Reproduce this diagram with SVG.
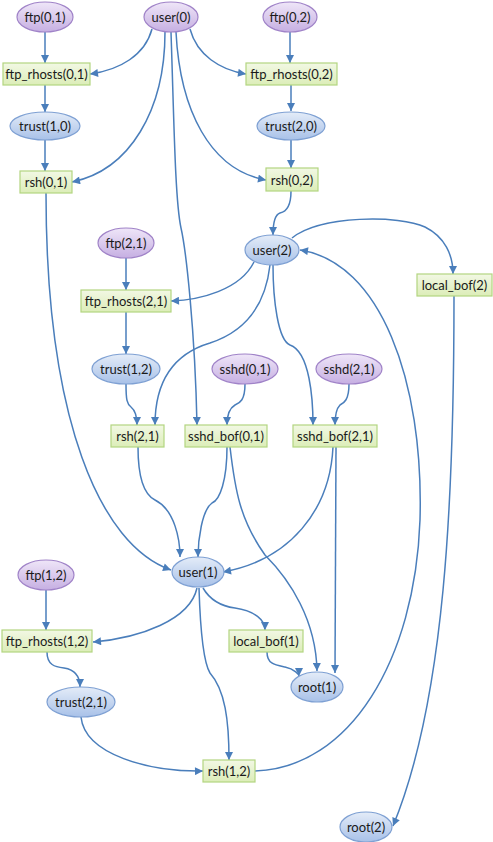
<svg xmlns="http://www.w3.org/2000/svg" width="493" height="842" viewBox="0 0 493 842">
<defs>
<linearGradient id="gp" x1="0" y1="0" x2="0" y2="1"><stop offset="0" stop-color="#efe6f8"/><stop offset="1" stop-color="#c6afe2"/></linearGradient>
<linearGradient id="gb" x1="0" y1="0" x2="0" y2="1"><stop offset="0" stop-color="#e4ecf8"/><stop offset="1" stop-color="#a8c1e8"/></linearGradient>
<linearGradient id="gg" x1="0" y1="0" x2="0" y2="1"><stop offset="0" stop-color="#f2f8e4"/><stop offset="1" stop-color="#dcedb8"/></linearGradient>
<marker id="ah" viewBox="0 0 10 10" refX="10" refY="5" markerWidth="9" markerHeight="8" markerUnits="userSpaceOnUse" orient="auto"><path d="M0,0 L10,5 L0,10 z" fill="#4a7ebb"/></marker>
<style>
.p{fill:url(#gp);stroke:#a083c8;stroke-width:1.2}
.b{fill:url(#gb);stroke:#7ea0d3;stroke-width:1.2}
.g{fill:url(#gg);stroke:#b3d580;stroke-width:1.2}
text{font-family:Lato,"Open Sans","Liberation Sans",sans-serif;font-size:13px;fill:#1a1a1a;text-anchor:middle;dominant-baseline:central}
#edges path{fill:none;stroke:#4a7ebb;stroke-width:1.5;marker-end:url(#ah)}
</style>
</defs>
<rect width="493" height="842" fill="#ffffff"/>
<g id="edges">
<path d="M45,32 L45,63"/>
<path d="M152,29 C145,55 120,70 90,74"/>
<path d="M190,29 C197,55 220,70 246,74"/>
<path d="M45,85 L45,112"/>
<path d="M45,140 L45,171"/>
<path d="M165,32 C165,110 130,170 72,182"/>
<path d="M176,32 C180,110 210,170 266,180"/>
<path d="M171,32 C174,120 175,200 181,228 C186,250 195,330 197,425"/>
<path d="M290,32 L290,63"/>
<path d="M291,85 L291,111"/>
<path d="M291,140 L291,168"/>
<path d="M291,191 C291,208 285,212 280,213 C274,215 273,225 273,235"/>
<path d="M46,193 C46,420 100,545 171,570"/>
<path d="M292,238 C320,215 400,215 425,227 C445,237 453,255 453,274"/>
<path d="M254,262 C240,290 200,300 171,301"/>
<path d="M270,265 C266,300 250,330 210,343 C170,355 155,385 155,425"/>
<path d="M273,265 C273,300 278,340 290,345 C310,352 313,400 313,425"/>
<path d="M255,771 C350,768 415,660 420,520 C424,380 380,262 300,250"/>
<path d="M126,258 L126,290"/>
<path d="M126,312 L126,354"/>
<path d="M126,384 C126,400 127,404 131,407 C136,411 137,418 137,425"/>
<path d="M245,384 C245,400 240,403 235,405 C228,409 227,418 227,425"/>
<path d="M349,384 C349,400 344,403 340,405 C336,409 335,418 335,425"/>
<path d="M454,296 C454,500 445,700 393,826"/>
<path d="M138,447 C138,480 145,495 155,500 C175,510 180,540 180,557"/>
<path d="M227,447 C227,480 220,500 212,503 C202,510 198,540 198,557"/>
<path d="M333,447 C330,510 290,560 223,572"/>
<path d="M230,447 C235,490 240,520 265,555 C290,580 316,620 317,671"/>
<path d="M336,447 L335,673"/>
<path d="M197,588 C190,620 140,638 93,642"/>
<path d="M46,590 L46,630"/>
<path d="M203,588 C210,600 220,606 235,608 C255,611 265,620 265,630"/>
<path d="M199,588 C200,620 202,660 210,673 C225,690 229,720 229,760"/>
<path d="M47,652 C47,665 55,667 64,668 C77,670 80,678 80,687"/>
<path d="M81,717 C85,755 150,772 203,771"/>
<path d="M267,652 C267,664 275,665 285,667 C295,669 299,675 299,676"/>
</g>
<g id="n_ftp01"><ellipse class="p" cx="45" cy="17" rx="28" ry="15"/><text x="45" y="17">ftp(0,1)</text></g>
<g id="n_user0"><ellipse class="p" cx="171" cy="17" rx="27" ry="15"/><text x="171" y="17">user(0)</text></g>
<g id="n_ftp02"><ellipse class="p" cx="290" cy="17" rx="27" ry="15"/><text x="290" y="17">ftp(0,2)</text></g>
<g id="n_ftprhosts01"><rect class="g" x="3" y="63" width="87" height="22"/><text x="46.5" y="74">ftp_rhosts(0,1)</text></g>
<g id="n_ftprhosts02"><rect class="g" x="246" y="63" width="91" height="22"/><text x="291.5" y="74">ftp_rhosts(0,2)</text></g>
<g id="n_trust10"><ellipse class="b" cx="45" cy="126" rx="35" ry="14"/><text x="45" y="126">trust(1,0)</text></g>
<g id="n_trust20"><ellipse class="b" cx="291" cy="126" rx="34" ry="14"/><text x="291" y="126">trust(2,0)</text></g>
<g id="n_rsh01"><rect class="g" x="20" y="171" width="52" height="22"/><text x="46" y="182">rsh(0,1)</text></g>
<g id="n_rsh02"><rect class="g" x="266" y="168" width="52" height="23"/><text x="292" y="179.5">rsh(0,2)</text></g>
<g id="n_user2"><ellipse class="b" cx="272" cy="250" rx="27" ry="15"/><text x="272" y="250">user(2)</text></g>
<g id="n_localbof2"><rect class="g" x="417" y="274" width="75" height="22"/><text x="454.5" y="285">local_bof(2)</text></g>
<g id="n_ftp21"><ellipse class="p" cx="126" cy="243" rx="28" ry="15"/><text x="126" y="243">ftp(2,1)</text></g>
<g id="n_ftprhosts21"><rect class="g" x="81" y="290" width="90" height="22"/><text x="126" y="301">ftp_rhosts(2,1)</text></g>
<g id="n_trust12"><ellipse class="b" cx="126" cy="369" rx="34" ry="15"/><text x="126" y="369">trust(1,2)</text></g>
<g id="n_sshd01"><ellipse class="p" cx="245" cy="369" rx="33" ry="15"/><text x="245" y="369">sshd(0,1)</text></g>
<g id="n_sshd21"><ellipse class="p" cx="349" cy="369" rx="33" ry="15"/><text x="349" y="369">sshd(2,1)</text></g>
<g id="n_rsh21"><rect class="g" x="111" y="425" width="53" height="22"/><text x="137.5" y="436">rsh(2,1)</text></g>
<g id="n_sshdbof01"><rect class="g" x="185" y="425" width="82" height="22"/><text x="226" y="436">sshd_bof(0,1)</text></g>
<g id="n_sshdbof21"><rect class="g" x="293" y="425" width="84" height="22"/><text x="335" y="436">sshd_bof(2,1)</text></g>
<g id="n_user1"><ellipse class="b" cx="198" cy="572" rx="26" ry="15"/><text x="198" y="572">user(1)</text></g>
<g id="n_ftp12"><ellipse class="p" cx="46" cy="575" rx="28" ry="15"/><text x="46" y="575">ftp(1,2)</text></g>
<g id="n_ftprhosts12"><rect class="g" x="2" y="630" width="90" height="22"/><text x="47" y="641">ftp_rhosts(1,2)</text></g>
<g id="n_localbof1"><rect class="g" x="229" y="630" width="74" height="22"/><text x="266" y="641">local_bof(1)</text></g>
<g id="n_root1"><ellipse class="b" cx="317" cy="687" rx="26" ry="15"/><text x="317" y="687">root(1)</text></g>
<g id="n_trust21"><ellipse class="b" cx="81" cy="702" rx="34" ry="15"/><text x="81" y="702">trust(2,1)</text></g>
<g id="n_rsh12"><rect class="g" x="203" y="760" width="52" height="22"/><text x="229" y="771">rsh(1,2)</text></g>
<g id="n_root2"><ellipse class="b" cx="366" cy="827" rx="26" ry="15"/><text x="366" y="827">root(2)</text></g>
</svg>
